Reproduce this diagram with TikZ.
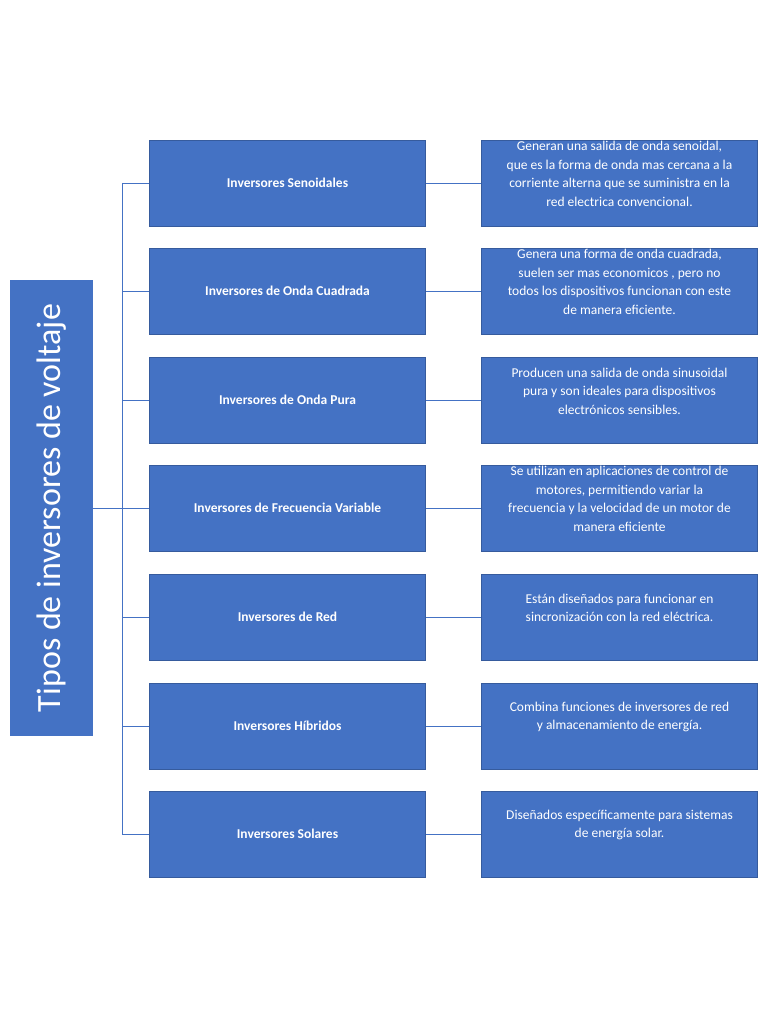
\documentclass[tikz,border=0pt]{standalone}
\usepackage{fontspec}
\setmainfont{Carlito}
\definecolor{bx}{HTML}{4472C4}
\begin{document}
\begin{tikzpicture}[x=1pt,y=-1pt,
  box/.style={fill=bx,draw=bx!80!black,line width=0.4pt,minimum width=276pt,minimum height=86pt,text=white,align=center,inner sep=1pt,font=\fontsize{13.5}{18.5}\selectfont},
  mid/.style={box,font=\fontsize{13.5}{18.5}\selectfont\bfseries},
  ln/.style={draw=bx,line width=0.8pt}]
\useasboundingbox (0,0) rectangle (768,1024);
\node[fill=bx,minimum width=83pt,minimum height=456pt,inner sep=0pt] (t) at (51.5,508) {};
\node[rotate=90,text=white,font=\fontsize{34}{40}\selectfont] (tt) at (t.center) {Tipos de inversores de voltaje};
\coordinate (j) at (122,508);
\def\ys{183,291,400,508,617,726,834}
\foreach \y/\m/\r [count=\i] in {
183/{Inversores Senoidales}/{Generan una salida de onda senoidal,\\que es la forma de onda mas cercana a la\\corriente alterna que se suministra en la\\red electrica convencional.},
291/{Inversores de Onda Cuadrada}/{Genera una forma de onda cuadrada,\\suelen ser mas economicos , pero no\\todos los dispositivos funcionan  con este\\de manera eficiente.},
400/{Inversores de Onda Pura}/{Producen una salida de onda sinusoidal\\pura y son ideales para dispositivos\\electrónicos sensibles.},
508/{Inversores de Frecuencia Variable}/{Se utilizan en aplicaciones de control de\\motores, permitiendo variar la\\frecuencia y la velocidad de un motor de\\manera eficiente},
617/{Inversores de Red}/{Están diseñados para funcionar en\\sincronización con la red eléctrica.},
726/{Inversores Híbridos}/{Combina funciones de inversores de red\\y almacenamiento de energía.},
834/{Inversores Solares}/{Diseñados específicamente para sistemas\\de energía solar.}}{
  \node[mid] (m\i) at (287.5,\y) {\m};
  \node[box,anchor=center] (r\i) at (619.5,\y-9) [minimum height=0pt,draw=none,fill=none] {};
  \node[box] (rb\i) at (619.5,\y) {};
  \node[text=white,align=center,font=\fontsize{13.5}{18.5}\selectfont] (rt\i) at (619.5,\y-9) {\r};
  \draw[ln] (m\i.east) -- (rb\i.west);
  \coordinate (v\i) at (122,\y);
  \draw[ln] (v\i) -- (m\i.west);
}
\draw[ln] (v1) -- (v7);
\draw[ln] (t.east) -- (j);
\end{tikzpicture}
\end{document}
